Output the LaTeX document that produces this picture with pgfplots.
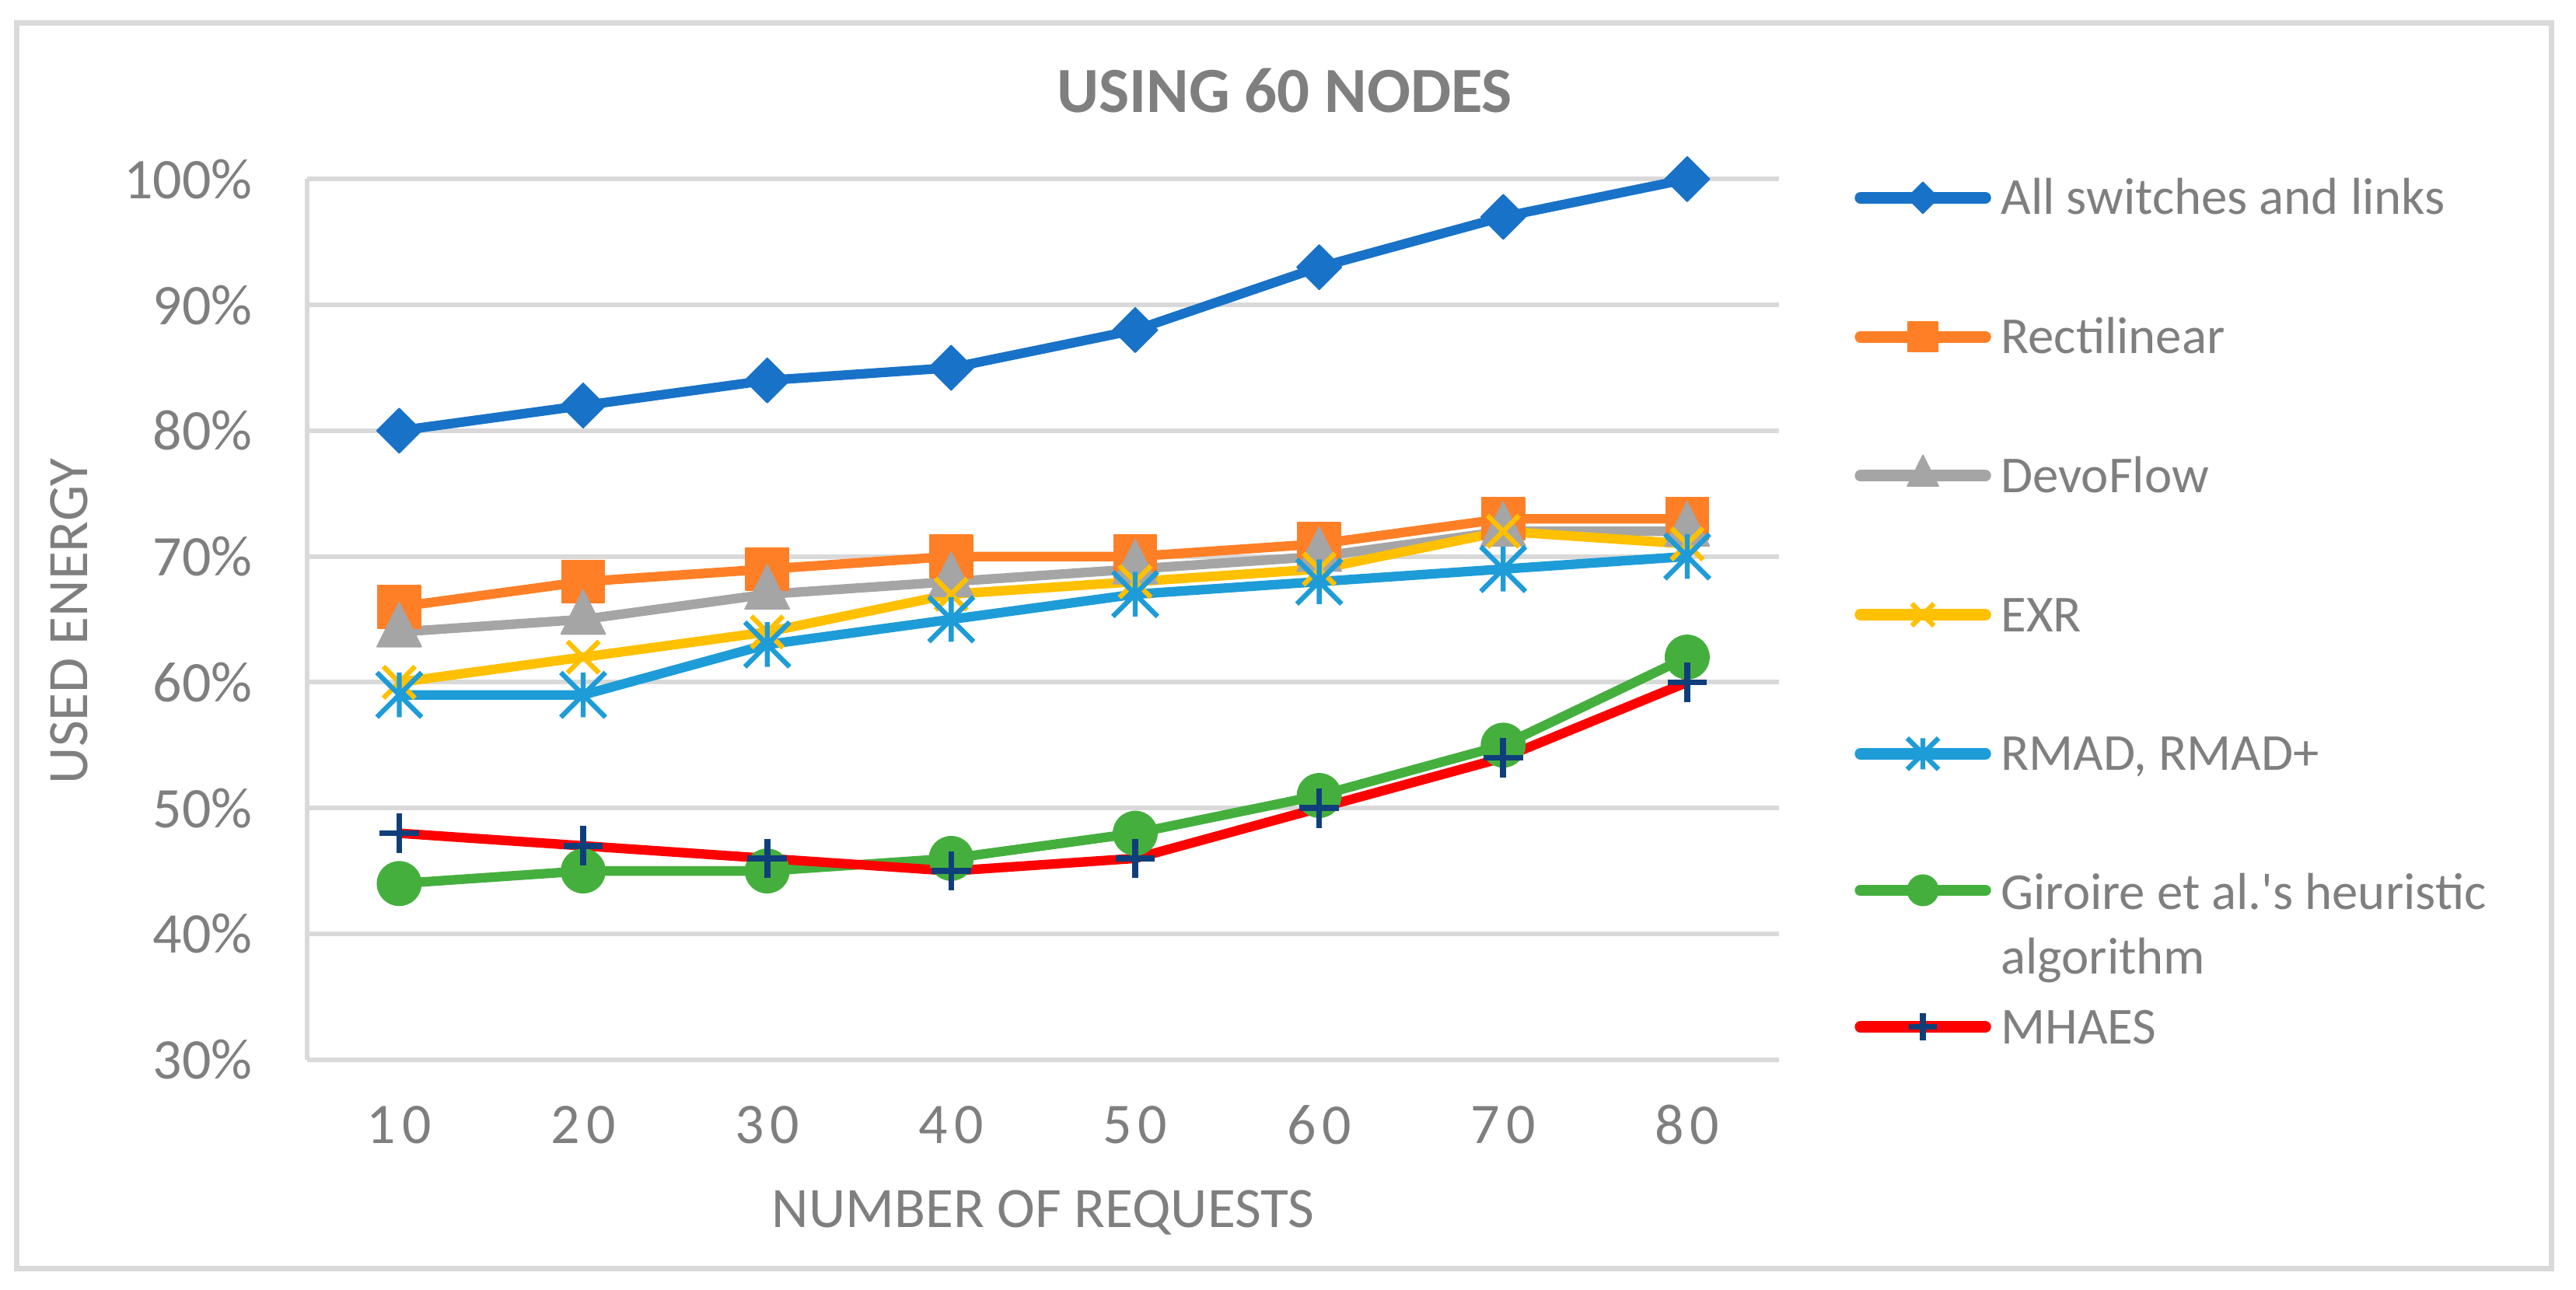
\documentclass[border=0pt]{standalone}
\usepackage{fontspec}
\setmainfont{Carlito}[Ligatures=TeXOff]
\usepackage{pgfplots}
\pgfplotsset{compat=1.18}

\definecolor{txtgray}{HTML}{7F7F7F}
\definecolor{gridgray}{HTML}{D9D9D9}
\definecolor{cAll}{HTML}{1872C8}
\definecolor{cRect}{HTML}{FF7F27}
\definecolor{cDevo}{HTML}{A5A5A5}
\definecolor{cExr}{HTML}{FFC000}
\definecolor{cRmad}{HTML}{1E9CD8}
\definecolor{cGir}{HTML}{45AF3E}
\definecolor{cMha}{HTML}{FF0000}
\definecolor{cMhaMark}{HTML}{0F3F7A}

% excel style star: x with a vertical bar
\pgfdeclareplotmark{xstar}{%
  \pgfpathmoveto{\pgfqpoint{-\pgfplotmarksize}{-\pgfplotmarksize}}%
  \pgfpathlineto{\pgfqpoint{\pgfplotmarksize}{\pgfplotmarksize}}%
  \pgfpathmoveto{\pgfqpoint{-\pgfplotmarksize}{\pgfplotmarksize}}%
  \pgfpathlineto{\pgfqpoint{\pgfplotmarksize}{-\pgfplotmarksize}}%
  \pgfpathmoveto{\pgfqpoint{0pt}{-\pgfplotmarksize}}%
  \pgfpathlineto{\pgfqpoint{0pt}{\pgfplotmarksize}}%
  \pgfusepathqstroke}

\begin{document}
\begin{tikzpicture}
\path[use as bounding box] (-93.5pt,-70pt) rectangle (690.5pt,322.5pt);
\draw[gridgray,line width=1.65pt] (-88.3pt,-63.5pt) rectangle (683pt,315.6pt);
\begin{axis}[at={(0,0)},anchor=south west,
  scale only axis,width=448pt,height=268pt,
  xmin=5,xmax=85,ymin=30,ymax=100,clip=false,
  xtick={10,20,...,80},
  xticklabels={1\kern1.9pt 0,2\kern1.9pt 0,3\kern1.9pt 0,4\kern1.9pt 0,5\kern1.9pt 0,6\kern1.9pt 0,7\kern1.9pt 0,8\kern1.9pt 0},
  ytick={30,40,...,100},
  yticklabels={30\%,40\%,50\%,60\%,70\%,80\%,90\%,100\%},
  /pgf/number format/assume math mode=true,
  ymajorgrids,major grid style={line width=1.4pt,gridgray},
  axis lines*=left,axis line style={line width=1.4pt,gridgray,-},
  major tick length=0pt,
  tick label style={font=\fontsize{17.5}{21}\selectfont,text=txtgray},
  xticklabel style={anchor=center,yshift=-19.8pt},
  yticklabel style={anchor=east,inner sep=0pt,xshift=-16.5pt},
  label style={font=\fontsize{17.4}{21}\selectfont,text=txtgray},
  xlabel={NUMBER OF REQUESTS},
  xlabel style={at={(axis description cs:0.5,-0.1735)},anchor=center},
  ylabel={USED ENERGY},
  ylabel style={at={(axis description cs:-0.1618,0.498)},anchor=center},
  title={USING 60 NODES},
  title style={at={(axis description cs:0.664,1.078)},anchor=center,
    font=\bfseries\fontsize{19.6}{23}\selectfont,text=txtgray},
  every axis plot/.append style={line width=2.9pt,line join=round},
  legend cell align=left,
  legend style={at={(axis description cs:1.0513,1.0577)},anchor=north west,
    draw=none,fill=none,inner sep=0pt,outer sep=0pt,row sep=0pt,
    font=\fontsize{15.8}{19.5}\selectfont,text=txtgray,
    nodes={inner sep=0pt,outer sep=0pt,text height=26.25pt,text depth=16.05pt,anchor=west},
    /tikz/every odd column/.append style={column sep=3pt}},
  legend image code/.code={%
    \draw[line width=3.5pt,line cap=round] (1.75pt,0pt) -- (39.75pt,0pt);
    \draw[/tikz/every mark/.append style={scale=0.7}] plot coordinates {(20.75pt,0pt)};},
]
\addplot[cAll,mark=square*,mark size=4.8pt,mark options={solid,rotate=45,line width=0.4pt}]
  coordinates {(10,80) (20,82) (30,84) (40,85) (50,88) (60,93) (70,97) (80,100)};
\addlegendentry{All switches and links}
\addplot[cRect,mark=square*,mark size=6.5pt,mark options={solid,line width=0.4pt}]
  coordinates {(10,66) (20,68) (30,69) (40,70) (50,70) (60,71) (70,73) (80,73)};
\addlegendentry{Rectilinear}
\addplot[cDevo,mark=triangle*,mark size=7.8pt,mark options={solid,yscale=1.15,line width=0.4pt}]
  coordinates {(10,64) (20,65) (30,67) (40,68) (50,69) (60,70) (70,72) (80,72)};
\addlegendentry{DevoFlow}
\addplot[cExr,mark=x,mark size=6.8pt,mark options={solid,line width=1.5pt}]
  coordinates {(10,60) (20,62) (30,64) (40,67) (50,68) (60,69) (70,72) (80,71)};
\addlegendentry{EXR}
\addplot[cRmad,mark=xstar,mark size=6.8pt,mark options={solid,line width=1.5pt}]
  coordinates {(10,59) (20,59) (30,63) (40,65) (50,67) (60,68) (70,69) (80,70)};
\addlegendentry{RMAD, RMAD+}
\addplot[cGir,mark=*,mark size=6.65pt,mark options={solid,line width=0.4pt}]
  coordinates {(10,44) (20,45) (30,45) (40,46) (50,48) (60,51) (70,55) (80,62)};
\addlegendentry[text depth=14.55pt]{\smash{\begin{tabular}[t]{@{}l@{}}Giroire et al.'s heuristic\\algorithm\end{tabular}}}
\addplot[cMha,mark=+,mark size=6pt,mark options={solid,draw=cMhaMark,line width=1.8pt}]
  coordinates {(10,48) (20,47) (30,46) (40,45) (50,46) (60,50) (70,54) (80,60)};
\addlegendentry{MHAES}
\end{axis}
\end{tikzpicture}
\end{document}
